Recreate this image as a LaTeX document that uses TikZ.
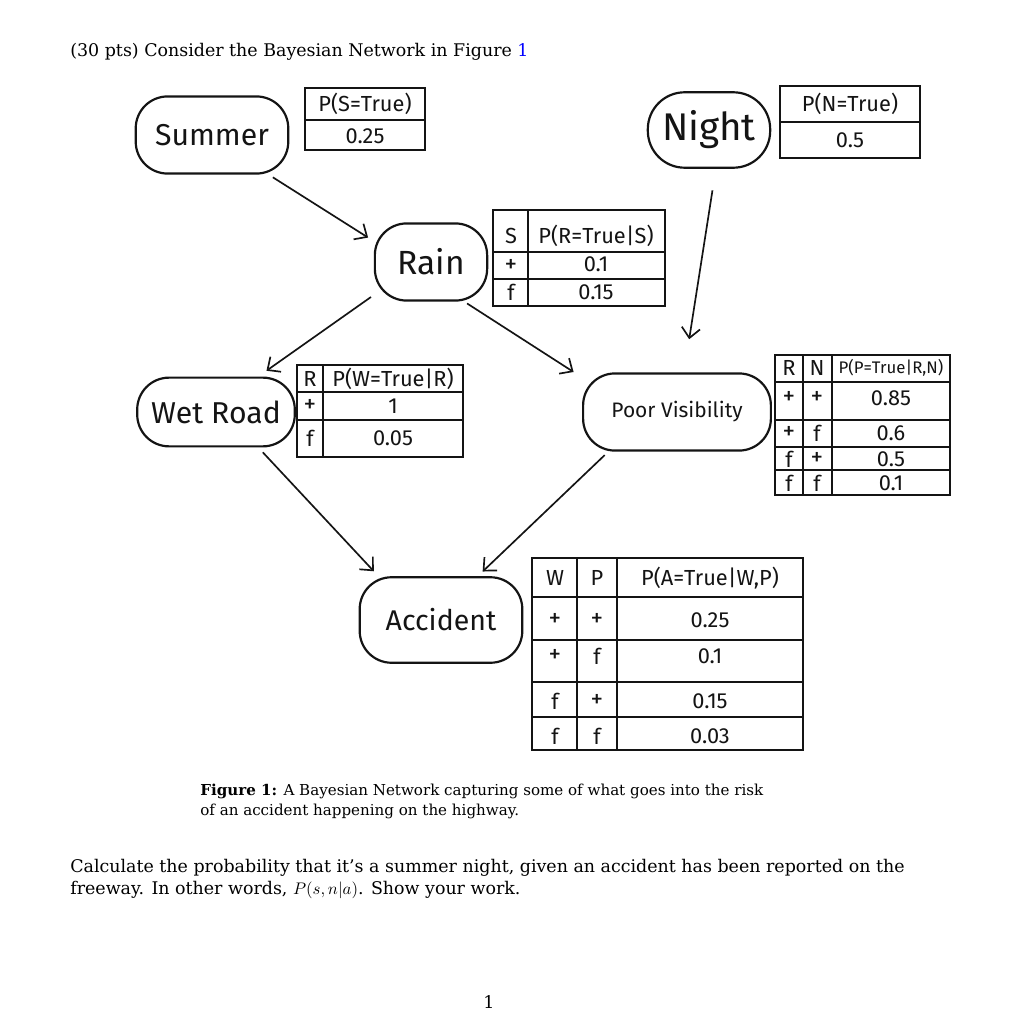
\documentclass[tikz,border=0pt]{standalone}
\usepackage{fontspec}
\setmainfont{DejaVu Serif}
\newfontfamily\hand{Fira Sans}
\usetikzlibrary{arrows.meta}
\definecolor{cLink}{RGB}{0,0,255}
\definecolor{cInk} {RGB}{20,20,20}
\newcommand\pl{{\fontsize{15}{15}\selectfont+}}
\tikzset{
  oval/.style = {draw=cInk, line width=1.3pt, rounded corners=19pt, inner sep=0pt,
                 text=cInk},
  tab/.style  = {draw=cInk, line width=1.1pt},
  cell/.style = {inner sep=0pt, text=cInk, font=\hand\fontsize{13}{13}\selectfont},
  small/.style= {cell, font=\hand\fontsize{10}{10}\selectfont},
  A/.style    = {-{Straight Barb[length=6pt,width=11pt]}, line width=1pt, cInk},
  body/.style = {anchor=base west, inner sep=0pt, font=\fontsize{10.4}{12}\selectfont},
  capt/.style = {anchor=base west, inner sep=0pt, font=\fontsize{9}{11}\selectfont},
}

\begin{document}
\begin{tikzpicture}[x=0.5965pt, y=-0.5965pt]
\useasboundingbox[fill=white] (0,0) rectangle (1026,1022);

%% ─── Question header ─────────────────────────────────────────────
\node[body] (title) at (70,57)
  {(30 pts) Consider the Bayesian Network in Figure {\color{cLink}1}};

%% ════════════════════════════════════════════
%%  Nodes of the network
%% ════════════════════════════════════════════
\node[oval, minimum width=91pt, minimum height=46pt,
      font=\hand\fontsize{18}{18}\selectfont] (summer) at (212,135) {Summer};
\node[oval, minimum width=73pt, minimum height=45pt, rounded corners=22pt,
      font=\hand\fontsize{23}{23}\selectfont] (night) at (709,130) {Night};
\node[oval, minimum width=67pt, minimum height=46pt,
      font=\hand\fontsize{20}{20}\selectfont] (rain) at (431,262) {Rain};
\node[oval, minimum width=94pt, minimum height=41pt,
      font=\hand\fontsize{18}{18}\selectfont] (wet) at (216,412) {Wet Road};
\node[oval, minimum width=112pt, minimum height=46pt,
      font=\hand\fontsize{12.5}{12.5}\selectfont] (poor) at (677,412) {Poor Visibility};
\node[oval, minimum width=97pt, minimum height=51pt,
      font=\hand\fontsize{17}{17}\selectfont] (acc) at (441,620) {Accident};

%% ─── Edges ───────────────────────────────────────────────────────
\draw[A, shorten <=3pt, shorten >=4pt] (summer.-35) -- (rain.160);
\draw[A, shorten <=2pt, shorten >=6pt] (rain.-150)  -- (wet.40);
\draw[A, shorten <=2pt, shorten >=6pt] (rain.-50)   -- (poor.160);
\draw[A, shorten <=13pt, shorten >=20pt] (night.-80) -- (poor.80);
\draw[A, shorten <=4pt, shorten >=4pt] (wet.-40)    -- (acc.145);
\draw[A, shorten <=3pt, shorten >=4pt] (poor.-150)  -- (acc.50);

%% ════════════════════════════════════════════
%%  Probability tables
%% ════════════════════════════════════════════
%% P(S)
\draw[tab] (305,88) rectangle (425,150);
\draw[tab] (305,120) -- (425,120);
\node[cell] (tSh) at (365,104) {P(S=True)};
\node[cell] (tSv) at (365,136) {0.25};

%% P(N)
\draw[tab] (780,86) rectangle (920,158);
\draw[tab] (780,122) -- (920,122);
\node[cell] (tNh) at (850,104) {P(N=True)};
\node[cell] (tNv) at (850,140) {0.5};

%% P(R|S)
\draw[tab] (493,210) rectangle (665,306);
\draw[tab] (493,252) -- (665,252) (493,279) -- (665,279);
\draw[tab] (528,210) -- (528,306);
\node[cell] (tRs)  at (511,236) {S};
\node[cell] (tRh)  at (596,236) {P(R=True|S)};
\node[cell] (tRp)  at (511,266) {\pl};
\node[cell] (tRpv) at (596,264) {0.1};
\node[cell] (tRf)  at (511,292) {f};
\node[cell] (tRfv) at (596,292) {0.15};

%% P(W|R)
\draw[tab] (297,365) rectangle (463,457);
\draw[tab] (297,392) -- (463,392) (297,420) -- (463,420);
\draw[tab] (323,365) -- (323,457);
\node[cell] (tWr)  at (310,379) {R};
\node[cell] (tWh)  at (393,379) {P(W=True|R)};
\node[cell] (tWp)  at (310,406) {\pl};
\node[cell] (tWpv) at (393,406) {1};
\node[cell] (tWf)  at (310,438) {f};
\node[cell] (tWfv) at (393,438) {0.05};

%% P(P|R,N)
\draw[tab] (775,355) rectangle (950,495);
\draw[tab] (775,382) -- (950,382) (775,420) -- (950,420)
           (775,447) -- (950,447) (775,470) -- (950,470);
\draw[tab] (803,355) -- (803,495) (832,355) -- (832,495);
\node[cell]  (tPr) at (789,368) {R};
\node[cell]  (tPn) at (817,368) {N};
\node[small] (tPh) at (891,368) {P(P=True|R,N)};
\foreach \y/\r/\n/\v [count=\i] in {398/\pl/\pl/0.85, 433/\pl/f/0.6, 459/f/\pl/0.5, 483/f/f/0.1}{
  \node[cell] (tPr\i) at (789,\y) {\r};
  \node[cell] (tPn\i) at (817,\y) {\n};
  \node[cell] (tPv\i) at (891,\y) {\v};
}

%% P(A|W,P)
\draw[tab] (532,558) rectangle (803,750);
\draw[tab] (532,597) -- (803,597) (532,640) -- (803,640)
           (532,682) -- (803,682) (532,717) -- (803,717);
\draw[tab] (577,558) -- (577,750) (617,558) -- (617,750);
\node[cell] (tAw) at (555,578) {W};
\node[cell] (tAp) at (597,578) {P};
\node[cell] (tAh) at (710,578) {P(A=True|W,P)};
\foreach \y/\w/\p/\v [count=\i] in {620/\pl/\pl/0.25, 656/\pl/f/0.1, 701/f/\pl/0.15, 736/f/f/0.03}{
  \node[cell] (tAw\i) at (555,\y) {\w};
  \node[cell] (tAp\i) at (597,\y) {\p};
  \node[cell] (tAv\i) at (710,\y) {\v};
}

%% ─── Caption and question ────────────────────────────────────────
\node[capt] (cap1) at (200,795)
  {\textbf{Figure 1:} A Bayesian Network capturing some of what goes into the risk};
\node[capt] (cap2) at (200,815) {of an accident happening on the highway.};

\node[body] (q1) at (70,872)
  {Calculate the probability that it's a summer night, given an accident has been reported on the};
\node[body] (q2) at (70,894)
  {freeway. In other words, $P(s,n|a)$. Show your work.};

\node[body, anchor=base] (page) at (489,1008) {1};

\end{tikzpicture}
\end{document}
